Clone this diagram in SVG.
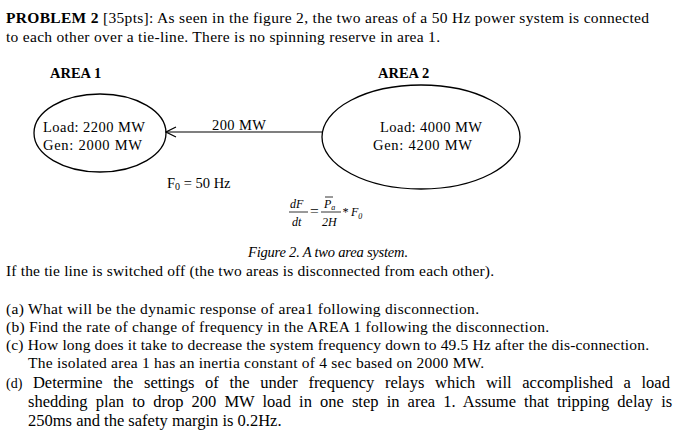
<svg xmlns="http://www.w3.org/2000/svg" width="683" height="436" viewBox="0 0 683 436">
<style>
text{font-family:"Liberation Serif",serif;font-size:15.5px;fill:#000}
.s{font-size:14.5px}
.d{font-size:16.5px}
.b{font-weight:bold}
.i{font-style:italic}
.m{font-style:italic;font-size:12px}
ellipse{fill:none;stroke:#000;stroke-width:1.3}
</style>
<defs><marker id="a" markerWidth="12" markerHeight="12" refX="11" refY="6" orient="auto" markerUnits="userSpaceOnUse"><path d="M1,1 L11,6 L1,11" fill="none" stroke="#000" stroke-width="1.2"/></marker></defs>
<rect width="683" height="436" fill="#fff"/>
<text x="6" y="23" textLength="643" lengthAdjust="spacing"><tspan class="b">PROBLEM 2</tspan> [35pts]: As seen in the figure 2, the two areas of a 50 Hz power system is connected</text>
<text x="6" y="42" textLength="434" lengthAdjust="spacing">to each other over a tie-line.  There is no spinning reserve in area 1.</text>
<g id="area1">
<text x="50" y="78" class="s b">AREA 1</text>
<ellipse cx="100" cy="133" rx="66" ry="39"/>
<text x="43" y="132" class="s" textLength="102">Load: 2200 MW</text>
<text x="43" y="150" class="s" textLength="99">Gen:  2000 MW</text>
</g>
<g id="area2">
<text x="378" y="78" class="s b">AREA 2</text>
<ellipse cx="421" cy="137" rx="99" ry="52"/>
<text x="380" y="132" class="s" textLength="102">Load: 4000 MW</text>
<text x="373" y="150" class="s" textLength="99">Gen:  4200 MW</text>
</g>
<g id="connectors">
<line x1="322" y1="132" x2="166" y2="132" stroke="#000" stroke-width="1.2" marker-end="url(#a)"/>
<text x="212" y="130" class="s" textLength="54">200 MW</text>
</g>
<text x="167" y="188" class="s">F<tspan font-size="10" dy="2">0</tspan><tspan dy="-2"> = 50 Hz</tspan></text>
<g id="formula">
<text x="290" y="208" class="m">dF</text>
<line x1="289" y1="212" x2="308" y2="212" stroke="#000" stroke-width="0.8"/>
<text x="292" y="226" class="m">dt</text>
<text x="310" y="216" font-size="12">=</text>
<line x1="325" y1="197" x2="333" y2="197" stroke="#000" stroke-width="0.8"/>
<text x="324" y="208" class="m">P<tspan font-size="8" dy="2">a</tspan></text>
<line x1="321" y1="212" x2="341" y2="212" stroke="#000" stroke-width="0.8"/>
<text x="322" y="226" class="m">2H</text>
<text x="342" y="216" class="m">* F<tspan font-size="8" dy="3">0</tspan></text>
</g>
<text x="248" y="257" class="s i" textLength="160">Figure 2. A two area system.</text>
<text x="6" y="276" textLength="488" lengthAdjust="spacing">If the tie line is switched off (the two areas is disconnected from each other).</text>
<text x="6" y="314" textLength="473" lengthAdjust="spacing">(a)  What will be the dynamic response of area1 following disconnection.</text>
<text x="6" y="332" textLength="543" lengthAdjust="spacing">(b)  Find the rate of change of frequency in the AREA 1 following the disconnection.</text>
<text x="6" y="350" textLength="643" lengthAdjust="spacing">(c)  How long does it take to decrease the system frequency down to 49.5 Hz after the dis-connection.</text>
<text x="28" y="368" textLength="456" lengthAdjust="spacing">The isolated area 1 has an inertia constant of 4 sec based on 2000 MW.</text>
<text x="6" y="388" class="d" word-spacing="6.5"><tspan font-size="14">(d)</tspan> Determine the settings of the under frequency relays which will accomplished a load</text>
<text x="28" y="407" class="d" word-spacing="4">shedding plan to drop 200 MW load in one step in area 1. Assume that tripping delay is</text>
<text x="28" y="426" class="d">250ms and the safety margin is 0.2Hz.</text>
</svg>
